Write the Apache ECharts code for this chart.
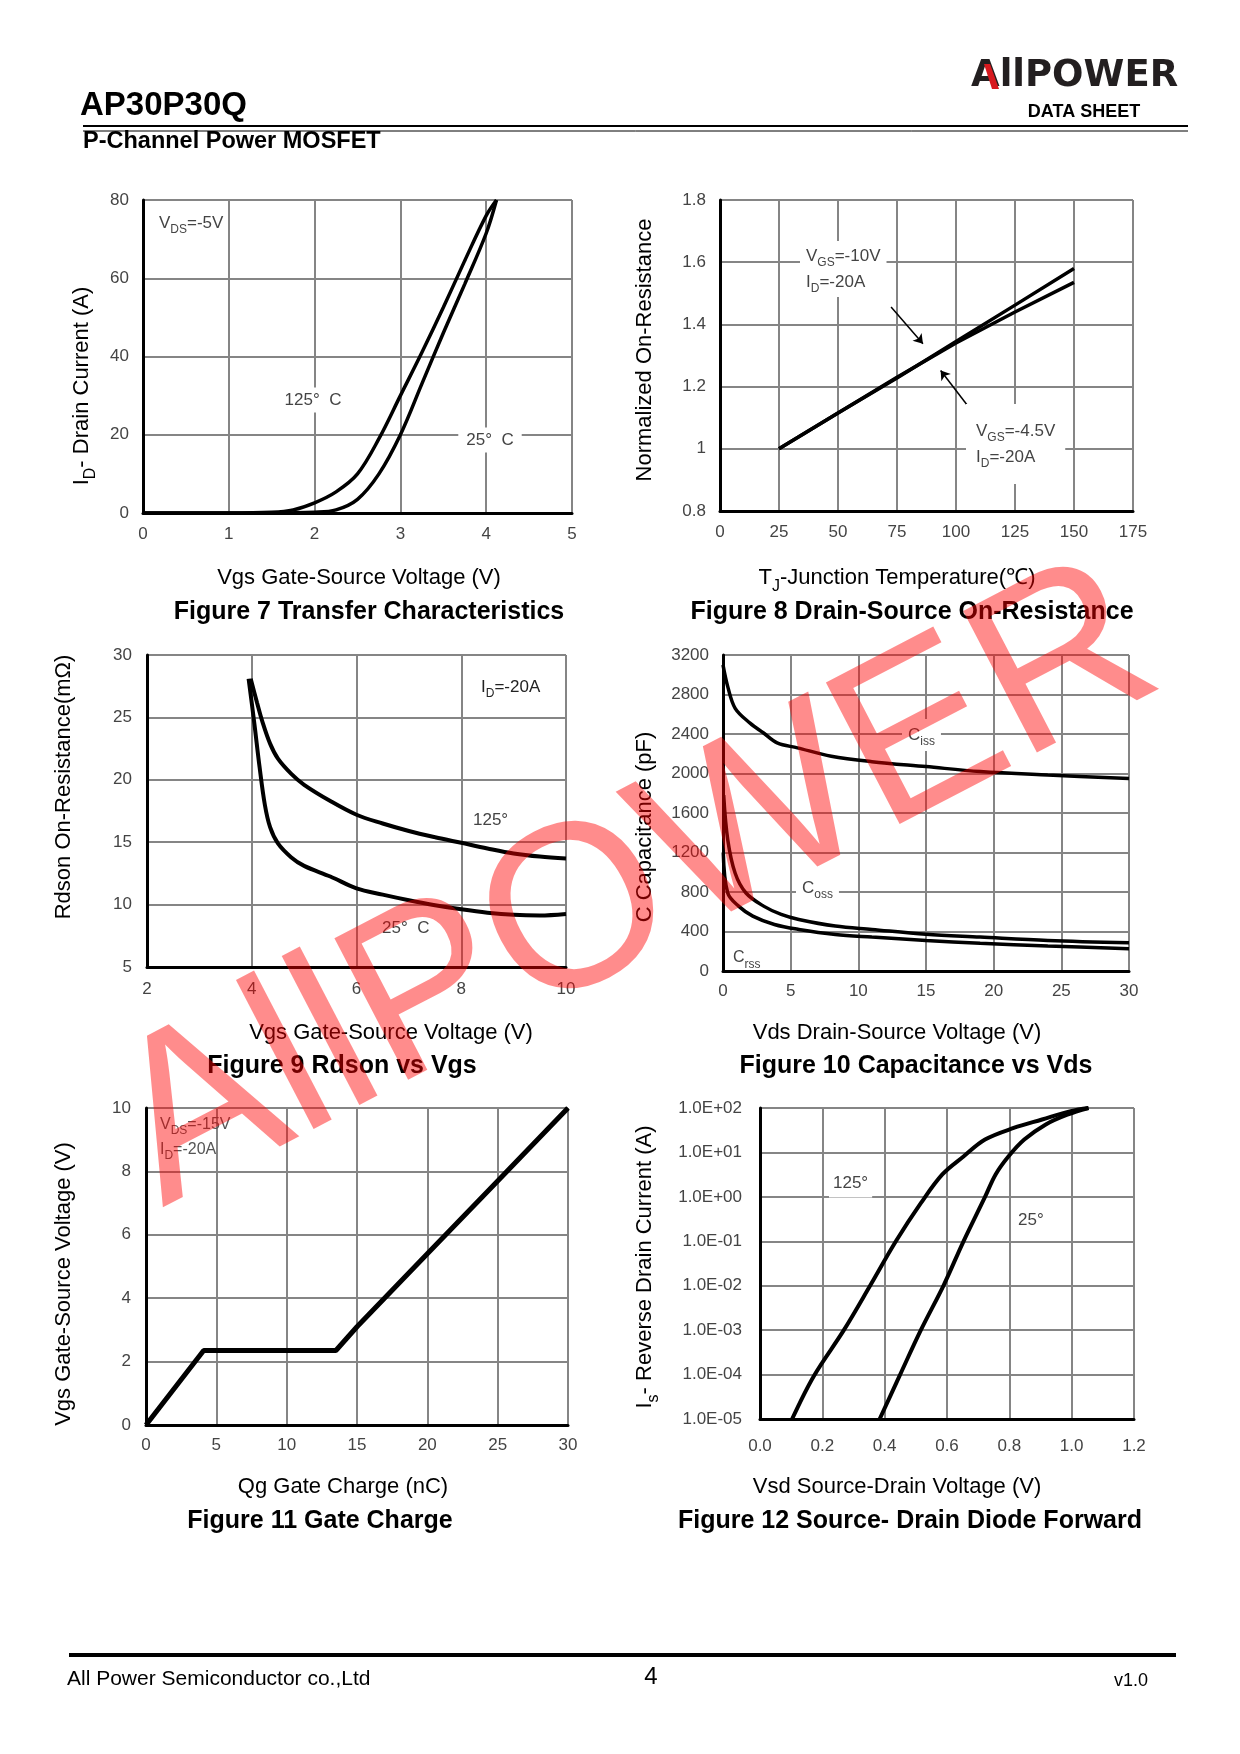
<!DOCTYPE html>
<html>
<head>
<meta charset="utf-8">
<script src="https://cdn.jsdelivr.net/npm/echarts@6/dist/echarts.min.js"></script>
<style>
html, body { margin: 0; padding: 0; background: #fff; }
#page { width: 1240px; height: 1754px; }
</style>
</head>
<body>
<div id="page"></div>
<script>
// Figure 7 - transfer characteristics
var f7Vgs125 = [0, 1.0, 1.5, 1.75, 2.0, 2.25, 2.5, 2.75, 3.0, 3.25, 3.5, 3.75, 4.0, 4.12];
var f7Id125 = [0, 0, 0.2, 0.8, 2.6, 5.4, 10, 19, 30, 41, 52.5, 64.5, 76, 80];
var f7Vgs25 = [0, 1.5, 2.0, 2.25, 2.5, 2.75, 3.0, 3.25, 3.5, 3.75, 4.0, 4.12];
var f7Id25 = [0, 0, 0.2, 0.8, 3.5, 10, 20, 33, 46, 58.5, 71.5, 80];

// Figure 8 - normalized on-resistance vs Tj
var f8Tj = [25, 50, 75, 100, 125, 150];
var f8R10 = [1.0, 1.115, 1.228, 1.345, 1.462, 1.58];
var f8R45 = [1.0, 1.115, 1.23, 1.34, 1.44, 1.535];

// Figure 9 - Rdson vs Vgs
var f9Vgs25 = [3.94, 4.05, 4.15, 4.25, 4.35, 4.5, 4.75, 5, 5.5, 6, 6.5, 7, 7.5, 8, 8.5, 9, 9.5, 10];
var f9R25 = [28.1, 24.5, 21, 18, 16.2, 14.9, 13.8, 13.1, 12.25, 11.3, 10.8, 10.35, 9.95, 9.62, 9.35, 9.18, 9.13, 9.25];
var f9Vgs125 = [3.98, 4.1, 4.2, 4.35, 4.5, 4.75, 5, 5.5, 6, 6.5, 7, 7.5, 8, 8.5, 9, 9.5, 10];
var f9R125 = [28.1, 26.2, 24.7, 22.9, 21.7, 20.5, 19.6, 18.3, 17.2, 16.5, 15.9, 15.4, 14.95, 14.5, 14.1, 13.85, 13.7];

// Figure 10 - capacitance vs Vds
var f10VdsIss = [0, 0.35, 0.9, 2, 3, 4, 5.5, 8, 11, 15, 19, 24, 30];
var f10Ciss = [3100, 2880, 2660, 2510, 2410, 2310, 2260, 2175, 2120, 2070, 2020, 1985, 1950];
var f10VdsOss = [0.05, 0.35, 0.9, 1.7, 3, 4.3, 5.6, 8.3, 11, 15, 19, 24, 30];
var f10Coss = [1780, 1330, 990, 790, 657, 573, 522, 455, 421, 372, 344, 310, 286];
var f10VdsRss = [0.02, 0.35, 1.15, 2.2, 3.8, 5.6, 8.3, 11, 15, 19, 24, 30];
var f10Crss = [1200, 790, 657, 556, 471, 421, 370, 344, 310, 280, 253, 226];

// Figure 11 - gate charge
var f11Qg = [0, 4.1, 13.5, 15, 20, 25, 30];
var f11Vgs = [0, 2.35, 2.35, 3.1, 5.4, 7.7, 10];

// Figure 12 - source-drain diode forward
var f12Vsd125 = [0.103, 0.172, 0.269, 0.355, 0.436, 0.516, 0.585, 0.653, 0.722, 0.814, 0.905, 0.997, 1.054];
var f12Is125 = [1e-5, 9.1e-5, 1.0e-3, 1.05e-2, 0.1, 0.72, 3.2, 8.1, 19.5, 35.5, 55, 85, 100];
var f12Vsd25 = [0.384, 0.447, 0.516, 0.59, 0.653, 0.722, 0.756, 0.797, 0.848, 0.917, 0.986, 1.054];
var f12Is25 = [1e-5, 9.1e-5, 1.0e-3, 1.05e-2, 0.1, 1.0, 3.2, 8.1, 19.5, 42.7, 70.8, 100];

var FONT = '"Liberation Sans", Arial, sans-serif';
var GRID_GRAY = '#858585';

function pairs(xs, ys) {
    return xs.map(function (x, i) { return [x, ys[i]]; });
}

// plot boxes: left, top, width, height
var grids = [
    [143, 200, 429, 313],
    [720, 200, 413, 311],
    [147, 655, 419, 312],
    [723, 655, 406, 316],
    [146, 1108, 422, 317],
    [760, 1108, 374, 311]
];

function plain(v) { return String(v); }

function xAx(i, min, max, interval, margin, fmt) {
    return {
        type: 'value', gridIndex: i, min: min, max: max, interval: interval,
        axisLine: { show: true, onZero: false, lineStyle: { color: '#000', width: 3 } },
        axisTick: { show: false },
        splitLine: { show: true, showMinLine: true, showMaxLine: true, lineStyle: { color: GRID_GRAY, width: 2 } },
        axisLabel: { margin: margin, color: '#444', fontSize: 17, fontFamily: FONT, formatter: fmt || plain, showMinLabel: true, showMaxLabel: true, hideOverlap: false }
    };
}

function yAx(i, min, max, interval, margin, fmt, type) {
    var a = xAx(i, min, max, interval, margin, fmt);
    if (type) {
        a.type = type;
        a.logBase = 10;
    }
    return a;
}

function curve(i, xs, ys, width, smooth) {
    return {
        type: 'line', xAxisIndex: i, yAxisIndex: i,
        data: pairs(xs, ys), showSymbol: false, symbol: 'none',
        smooth: smooth,
        lineStyle: { color: '#000', width: width }, z: 5
    };
}

function txt(x, y, text, o) {
    o = o || {};
    var size = o.size || 17;
    var family = o.family || FONT;
    var st = {
        text: text,
        font: (o.weight || 'normal') + ' ' + size + 'px ' + family,
        fill: o.color || '#000',
        align: o.align || 'center', textAlign: o.align || 'center',
        verticalAlign: o.valign || 'middle', textVerticalAlign: o.valign || 'middle',
        rich: {
            sub: { fontSize: Math.round(size * 0.72), fontFamily: family, fill: o.color || '#000', verticalAlign: 'bottom', lineHeight: Math.round(size * 1.55) }
        }
    };
    if (o.lh) st.lineHeight = o.lh;
    if (o.bg) { st.backgroundColor = o.bg; st.padding = o.pad || [2, 4]; }
    return { type: 'text', x: x, y: y, rotation: o.rot || 0, z: o.z || 10, silent: true, style: st };
}

function hline(x1, x2, y, w) {
    return { type: 'line', z: 10, silent: true, shape: { x1: x1, y1: y, x2: x2, y2: y }, style: { stroke: '#000', lineWidth: w } };
}

var labelColor = '#444';
var ROT = Math.PI / 2;

var graphics = [
    // header
    txt(80, 106, 'AP30P30Q', { size: 33, weight: 'bold', align: 'left' }),
    txt(83, 142, 'P-Channel Power MOSFET', { size: 23.5, weight: 'bold', align: 'left' }),
    txt(971, 76, 'AllPOWER', { size: 37, weight: 'bold', align: 'left', family: '"DejaVu Sans", sans-serif', color: '#231f20' }),
    { type: 'polygon', z: 11, silent: true, shape: { points: [[984, 64], [990, 64], [999, 89], [992, 89]] }, style: { fill: '#d7191f' } },
    txt(1084, 112, 'DATA SHEET', { size: 18, weight: 'bold' }),
    hline(83, 1188, 126, 2),
    hline(83, 1188, 131, 1),

    // Figure 7
    txt(359, 578, 'Vgs Gate-Source Voltage (V)', { size: 22 }),
    txt(369, 612, 'Figure 7 Transfer Characteristics', { size: 25, weight: 'bold' }),
    txt(82, 386, 'I{sub|D}- Drain Current (A)', { size: 22, rot: ROT }),
    txt(159, 223, 'V{sub|DS}=-5V', { size: 17, align: 'left', color: labelColor }),
    txt(313, 400, '125°  C', { size: 17, color: labelColor, bg: '#fff', pad: [4, 8] }),
    txt(490, 440, '25°  C', { size: 17, color: labelColor, bg: '#fff', pad: [4, 8] }),

    // Figure 8
    txt(897, 578, 'T{sub|J}-Junction Temperature(℃)', { size: 22 }),
    txt(912, 612, 'Figure 8 Drain-Source On-Resistance', { size: 25, weight: 'bold' }),
    txt(645, 350, 'Normalized On-Resistance', { size: 22, rot: ROT }),
    txt(800, 269, 'V{sub|GS}=-10V\nI{sub|D}=-20A', { size: 17, align: 'left', color: labelColor, lh: 22, bg: '#fff', pad: [2, 6] }),
    txt(966, 444, 'V{sub|GS}=-4.5V\nI{sub|D}=-20A', { size: 17, align: 'left', color: labelColor, lh: 24, bg: '#fff', pad: [14, 10] }),

    // Figure 9
    txt(391, 1033, 'Vgs Gate-Source Voltage (V)', { size: 22 }),
    txt(342, 1066, 'Figure 9 Rdson vs Vgs', { size: 25, weight: 'bold' }),
    txt(64, 787, 'Rdson On-Resistance(mΩ)', { size: 22, rot: ROT }),
    txt(481, 687, 'I{sub|D}=-20A', { size: 17, align: 'left', color: '#222' }),
    txt(471, 820, '125°', { size: 17, align: 'left', color: labelColor, bg: '#fff', pad: [3, 2] }),
    txt(382, 928, '25°  C', { size: 17, align: 'left', color: labelColor }),

    // Figure 10
    txt(897, 1033, 'Vds Drain-Source Voltage (V)', { size: 22 }),
    txt(916, 1066, 'Figure 10 Capacitance vs Vds', { size: 25, weight: 'bold' }),
    txt(645, 827, 'C Capacitance (pF)', { size: 22, rot: ROT }),
    txt(902, 735, 'C{sub|iss}', { size: 17, align: 'left', color: labelColor, bg: '#fff', pad: [3, 6] }),
    txt(796, 888, 'C{sub|oss}', { size: 17, align: 'left', color: labelColor, bg: '#fff', pad: [3, 6] }),
    txt(733, 958, 'C{sub|rss}', { size: 16, align: 'left', color: labelColor }),

    // Figure 11
    txt(343, 1487, 'Qg Gate Charge (nC)', { size: 22 }),
    txt(320, 1521, 'Figure 11 Gate Charge', { size: 25, weight: 'bold' }),
    txt(64, 1284, 'Vgs Gate-Source Voltage (V)', { size: 22, rot: ROT }),
    txt(160, 1137, 'V{sub|DS}=-15V\nI{sub|D}=-20A', { size: 16, align: 'left', color: '#555', lh: 20 }),

    // Figure 12
    txt(897, 1487, 'Vsd Source-Drain Voltage (V)', { size: 22 }),
    txt(910, 1521, 'Figure 12 Source- Drain Diode Forward', { size: 25, weight: 'bold' }),
    txt(645, 1267, 'I{sub|s}- Reverse Drain Current (A)', { size: 22, rot: ROT }),
    txt(829, 1183, '125°', { size: 17, align: 'left', color: labelColor, bg: '#fff', pad: [6, 4] }),
    txt(1018, 1220, '25°', { size: 17, align: 'left', color: labelColor }),

    // footer
    hline(69, 1176, 1655, 4),
    txt(67, 1679, 'All Power Semiconductor co.,Ltd', { size: 21, align: 'left' }),
    txt(651, 1677, '4', { size: 24 }),
    txt(1148, 1681, 'v1.0', { size: 18, align: 'right' }),

    // watermark
    {
        type: 'text', x: 636, y: 889, rotation: 27.5 * Math.PI / 180, z: 100, silent: true,
        style: {
            text: 'AllPOWER', font: 'normal 232px ' + FONT, fill: 'rgba(255, 0, 0, 0.45)',
            align: 'center', textAlign: 'center', verticalAlign: 'middle', textVerticalAlign: 'middle'
        }
    }
];

function fmt12(v) {
    var e = Math.round(Math.log(v) / Math.LN10);
    var a = Math.abs(e);
    return '1.0E' + (e < 0 ? '-' : '+') + (a < 10 ? '0' : '') + a;
}

var option = {
    animation: false,
    backgroundColor: '#fff',
    grid: grids.map(function (g) {
        return { left: g[0], top: g[1], width: g[2], height: g[3], containLabel: false, outerBoundsMode: 'none', show: false };
    }),
    xAxis: [
        xAx(0, 0, 5, 1, 13),
        xAx(1, 0, 175, 25, 13),
        xAx(2, 2, 10, 2, 14),
        xAx(3, 0, 30, 5, 12),
        xAx(4, 0, 30, 5, 12),
        xAx(5, 0, 1.2, 0.2, 19, function (v) { return v.toFixed(1); })
    ],
    yAxis: [
        yAx(0, 0, 80, 20, 14),
        yAx(1, 0.8, 1.8, 0.2, 14),
        yAx(2, 5, 30, 5, 15),
        yAx(3, 0, 3200, 400, 14),
        yAx(4, 0, 10, 2, 15),
        yAx(5, 1e-5, 100, 1, 18, fmt12, 'log')
    ],
    series: [
        curve(0, f7Vgs125, f7Id125, 3.5, 0.35),
        curve(0, f7Vgs25, f7Id25, 3.5, 0.35),
        (function () {
            var s = curve(1, f8Tj, f8R10, 3.5, false);
            s.markLine = {
                silent: true, symbol: ['none', 'arrow'], symbolSize: 9, animation: false,
                label: { show: false },
                lineStyle: { color: '#000', width: 1.5, type: 'solid' },
                data: [
                    [{ coord: [72.5, 1.456] }, { coord: [86, 1.338] }],
                    [{ coord: [104.8, 1.14] }, { coord: [93.5, 1.252] }]
                ]
            };
            return s;
        })(),
        curve(1, f8Tj, f8R45, 3.5, false),
        curve(2, f9Vgs25, f9R25, 4, 0.35),
        curve(2, f9Vgs125, f9R125, 4, 0.35),
        curve(3, f10VdsIss, f10Ciss, 3.5, 0.35),
        curve(3, f10VdsOss, f10Coss, 3.5, 0.35),
        curve(3, f10VdsRss, f10Crss, 3.5, 0.35),
        curve(4, f11Qg, f11Vgs, 5, false),
        curve(5, f12Vsd125, f12Is125, 4, 0.35),
        curve(5, f12Vsd25, f12Is25, 4, 0.35)
    ],
    graphic: graphics
};

var chart = echarts.init(document.getElementById('page'), null, { renderer: 'canvas' });
chart.setOption(option);
</script>
</body>
</html>
